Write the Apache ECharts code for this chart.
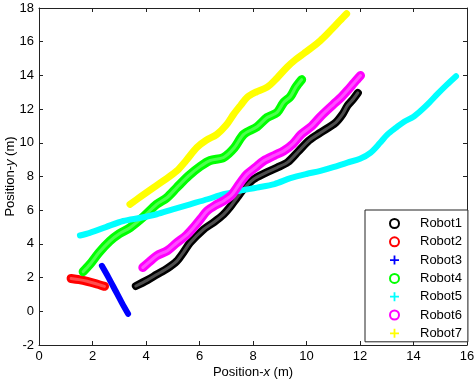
<!DOCTYPE html>
<html>
<head>
<meta charset="utf-8">
<script src="https://cdn.jsdelivr.net/npm/echarts@6/dist/echarts.min.js"></script>
<style>html,body{margin:0;padding:0;background:#fff}#c{width:474px;height:384px}</style>
</head>
<body>
<div id="c"></div>
<script>
// ---- data ----
var seriesNames = ['Robot1','Robot2','Robot3','Robot4','Robot5','Robot6','Robot7'];
var xTicks = [0,2,4,6,8,10,12,14,16];
var yTicks = [-2,0,2,4,6,8,10,12,14,16,18];

var robot1 = [[3.62,1.5],[4.05,1.85],[4.4,2.18],[4.8,2.55],[5.15,2.98],[5.4,3.5],[5.65,4.07],[6.15,4.86],[6.55,5.3],[6.9,5.75],[7.15,6.2],[7.4,6.74],[7.7,7.35],[8.02,7.84],[8.45,8.2],[8.9,8.53],[9.3,8.85],[9.7,9.5],[10.1,10.15],[10.52,10.6],[11.09,11.2],[11.35,11.7],[11.53,12.2],[11.75,12.6],[11.92,12.96]];
var robot2 = [[1.2,1.95],[1.5,1.88],[1.8,1.78],[2.1,1.65],[2.45,1.48]];
var robot3 = [[2.35,2.7],[2.6,2.0],[2.85,1.25],[3.1,0.5],[3.33,-0.15]];
var robot4 = [[1.65,2.35],[1.9,2.78],[2.25,3.5],[2.65,4.17],[3.0,4.6],[3.4,4.96],[3.9,5.6],[4.4,6.35],[4.78,6.74],[5.15,7.34],[5.6,8.05],[6.03,8.6],[6.4,8.95],[6.9,9.13],[7.3,9.7],[7.65,10.5],[8.15,10.95],[8.53,11.5],[8.9,11.8],[9.15,12.4],[9.4,12.75],[9.6,13.3],[9.82,13.75]];
var robot5 = [[1.53,4.5],[1.9,4.66],[2.5,5.0],[3.15,5.36],[3.8,5.55],[4.4,5.76],[5.0,6.05],[5.65,6.35],[6.3,6.65],[6.9,6.95],[7.5,7.15],[8.15,7.34],[8.8,7.55],[9.4,7.9],[10.0,8.15],[10.52,8.33],[11.0,8.55],[11.53,8.83],[12.0,9.05],[12.4,9.42],[12.75,10.0],[13.03,10.5],[13.35,10.9],[13.65,11.25],[14.0,11.55],[14.27,11.9],[14.6,12.4],[14.9,12.9],[15.25,13.45],[15.59,13.95]];
var robot6 = [[3.88,2.6],[4.1,2.9],[4.4,3.3],[4.8,3.6],[5.15,4.07],[5.5,4.5],[5.77,4.96],[6.05,5.5],[6.28,5.95],[6.6,6.3],[6.9,6.55],[7.2,6.9],[7.4,7.34],[7.6,7.8],[7.78,8.14],[8.1,8.55],[8.4,8.93],[8.8,9.25],[9.15,9.52],[9.5,9.95],[9.8,10.5],[10.2,11.0],[10.55,11.6],[11.02,12.3],[11.3,12.7],[11.53,13.1],[11.8,13.6],[12.02,13.99]];
var robot7 = [[3.4,6.35],[3.8,6.8],[4.28,7.34],[4.7,7.8],[5.15,8.33],[5.5,8.95],[5.9,9.72],[6.25,10.15],[6.65,10.5],[7.0,11.05],[7.28,11.7],[7.55,12.25],[7.78,12.7],[8.1,13.0],[8.53,13.3],[8.9,13.85],[9.28,14.5],[9.6,14.95],[9.9,15.3],[10.2,15.65],[10.52,16.07],[10.8,16.5],[11.02,16.86],[11.25,17.25],[11.5,17.66]];

var dataList = [robot1, robot2, robot3, robot4, robot5, robot6, robot7];
var colors = ['#000000','#ff0000','#0000ff','#00ff00','#00ffff','#ff00ff','#ffff00'];
var widths = [8, 9, 6, 9, 6, 9, 7];
var isCircle = [true, true, false, true, false, true, false];
var plusPath = 'path://M4,0L6,0L6,4L10,4L10,6L6,6L6,10L4,10L4,6L0,6L0,4L4,4Z';

var FONT = '"Liberation Sans", Arial, Helvetica, sans-serif';
var chart = echarts.init(document.getElementById('c'), null, {renderer:'canvas'});

var series = [];
dataList.forEach(function(d, i){
  series.push({
    name: seriesNames[i], type:'line', data:d, showSymbol:false,
    symbol: isCircle[i] ? 'emptyCircle' : plusPath, symbolSize: 9,
    smooth: 0.3, color: colors[i],
    itemStyle:{color: colors[i]},
    lineStyle:{color:colors[i], width:widths[i], cap:'round', join:'round'},
    animation:false, z: 2 + 2*i
  });
  if (isCircle[i]) {
    // lighter core, imitating the texture of overlapping hollow circle markers
    series.push({
      name: seriesNames[i] + '_core', type:'line', data:d, showSymbol:false, symbol:'none',
      smooth: 0.3, silent:true,
      lineStyle:{color: 'rgba(255,255,255,0.3)', width:3, cap:'round', join:'round'},
      animation:false, z: 3 + 2*i
    });
  }
});

var axisCommon = {
  axisLine:{show:true, onZero:false, lineStyle:{color:'#222', width:1}},
  axisTick:{show:true, inside:true, length:4, lineStyle:{color:'#222'}},
  splitLine:{show:false}
};

chart.setOption({
  animation:false,
  backgroundColor:'#fff',
  textStyle:{fontFamily:FONT},
  grid:{left:39, right:7, top:8, bottom:39, containLabel:false, outerBoundsMode:'none'},
  legend:{
    orient:'vertical', left:365, top:210,
    padding:[7,6,2,24], itemGap:5.3, itemWidth:9, itemHeight:9,
    backgroundColor:'#fff', borderColor:'#222', borderWidth:1,
    textStyle:{fontSize:13, color:'#000', fontFamily:FONT, padding:[0,0,0,16]},
    data: seriesNames.map(function(n,i){
      return {name:n, icon: isCircle[i] ? 'emptyCircle' : plusPath,
        itemStyle: {color:colors[i], borderWidth:1}};
    })
  },
  xAxis:[
    Object.assign({type:'value', min:0, max:16, interval:2, position:'bottom',
      name:'Position-{i|x} (m)', nameLocation:'middle', nameGap:21, nameMoveOverlap:false,
      nameTextStyle:{fontSize:13, color:'#000', fontFamily:FONT, rich:{i:{fontStyle:'italic', fontSize:13, fontFamily:FONT}}},
      axisLabel:{fontSize:13, color:'#000', margin:5, fontFamily:FONT}}, axisCommon),
    Object.assign({type:'value', min:0, max:16, interval:2, position:'top', axisLabel:{show:false}}, axisCommon)
  ],
  yAxis:[
    Object.assign({type:'value', min:-2, max:18, interval:2, position:'left',
      name:'Position-{i|y} (m)', nameLocation:'middle', nameGap:22, nameRotate:90, nameMoveOverlap:false,
      nameTextStyle:{fontSize:13, color:'#000', fontFamily:FONT, rich:{i:{fontStyle:'italic', fontSize:13, fontFamily:FONT}}},
      axisLabel:{fontSize:13, color:'#000', margin:5, fontFamily:FONT}}, axisCommon),
    Object.assign({type:'value', min:-2, max:18, interval:2, position:'right', axisLabel:{show:false}}, axisCommon)
  ],
  series: series
});
</script>
</body>
</html>
